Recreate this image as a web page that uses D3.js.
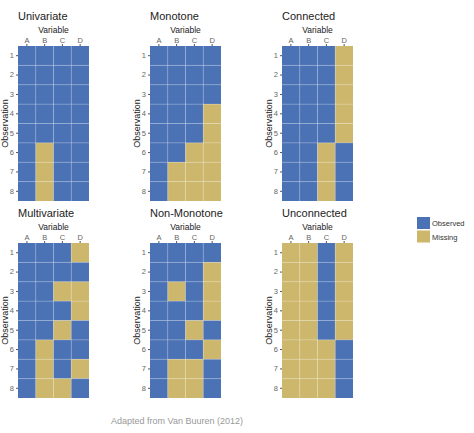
<!DOCTYPE html>
<html><head><meta charset="utf-8">
<script src="https://cdn.jsdelivr.net/npm/d3@7"></script>
<style>body{margin:0;background:#fff}text{font-family:Arial,"Liberation Sans",sans-serif}</style>
</head><body>
<svg width="474" height="433"></svg>
<script>
let svg = d3.select("svg");
let variables = ["A", "B", "C", "D"];
let observations = [1, 2, 3, 4, 5, 6, 7, 8];
let titles = ["Univariate", "Monotone", "Connected", "Multivariate", "Non-Monotone", "Unconnected"];
// missing cells per panel, one string per observation (variables that are missing)
let univariate = ["", "", "", "", "", "B", "B", "B"];
let monotone = ["", "", "", "D", "D", "CD", "BCD", "BCD"];
let connected = ["D", "D", "D", "D", "D", "C", "C", "C"];
let multivariate = ["D", "", "CD", "D", "C", "B", "BD", "BC"];
let nonMonotone = ["", "D", "BD", "D", "C", "D", "BC", "BC"];
let unconnected = ["ABD", "ABD", "ABD", "ABD", "ABD", "ABC", "ABC", "ABC"];
let patterns = [univariate, monotone, connected, multivariate, nonMonotone, unconnected];
let legendLabels = ["Observed", "Missing"];
let color = d3.scaleOrdinal().domain(legendLabels).range(["#4a72b5", "#cdb76c"]);

let panelX = [18, 150, 282];
let panelY = [46, 243];
let w = 71, h = 155;

patterns.forEach((pat, p) => {
  let g = svg.append("g")
    .attr("transform", `translate(${panelX[p % 3]},${panelY[Math.floor(p / 3)]})`);
  let x = d3.scaleBand().domain(variables).range([0, w]);
  let y = d3.scaleBand().domain(observations).range([0, h]);
  let cells = [];
  pat.forEach((m, i) => variables.forEach(v =>
    cells.push({ o: observations[i], v, s: m.includes(v) ? "Missing" : "Observed" })));
  g.selectAll("rect").data(cells).enter().append("rect")
    .attr("x", d => x(d.v)).attr("y", d => y(d.o))
    .attr("width", x.bandwidth()).attr("height", y.bandwidth())
    .attr("fill", d => color(d.s));
  // faint grid lines
  g.selectAll(".vl").data(variables.slice(1)).enter().append("line")
    .attr("x1", d => x(d)).attr("x2", d => x(d)).attr("y1", 0).attr("y2", h)
    .attr("stroke", "#fff").attr("stroke-opacity", 0.3).attr("stroke-width", 0.7);
  g.selectAll(".hl").data(observations.slice(1)).enter().append("line")
    .attr("y1", d => y(d)).attr("y2", d => y(d)).attr("x1", 0).attr("x2", w)
    .attr("stroke", "#fff").attr("stroke-opacity", 0.3).attr("stroke-width", 0.7);

  let ax = g.append("g").call(d3.axisTop(x).tickSize(2).tickPadding(1));
  let ay = g.append("g").call(d3.axisLeft(y).tickSize(2).tickPadding(2));
  [ax, ay].forEach(a => {
    a.select(".domain").remove();
    a.selectAll("line").attr("stroke", "#555");
    a.selectAll("text").attr("fill", "#666").attr("font-size", 7.5);
  });
  g.append("text").attr("x", 0).attr("y", -26).attr("font-size", 11).attr("fill", "#222").text(titles[p]);
  g.append("text").attr("x", w / 2).attr("y", -13).attr("text-anchor", "middle")
    .attr("font-size", 8.5).attr("fill", "#222").text("Variable");
  g.append("text").attr("transform", `translate(-10,${h / 2}) rotate(-90)`)
    .attr("text-anchor", "middle").attr("font-size", 9).attr("fill", "#222").text("Observation");
});

let lg = svg.append("g").attr("transform", "translate(417,217)");
legendLabels.forEach((l, i) => {
  lg.append("rect").attr("y", i * 13.5).attr("width", 13).attr("height", 12).attr("fill", color(l));
  lg.append("text").attr("x", 15).attr("y", i * 13.5 + 9).attr("font-size", 7.5).attr("fill", "#333").text(l);
});

svg.append("text").attr("x", 177).attr("y", 424).attr("text-anchor", "middle")
  .attr("font-size", 9).attr("fill", "#999").text("Adapted from Van Buuren (2012)");
</script>
</body></html>
